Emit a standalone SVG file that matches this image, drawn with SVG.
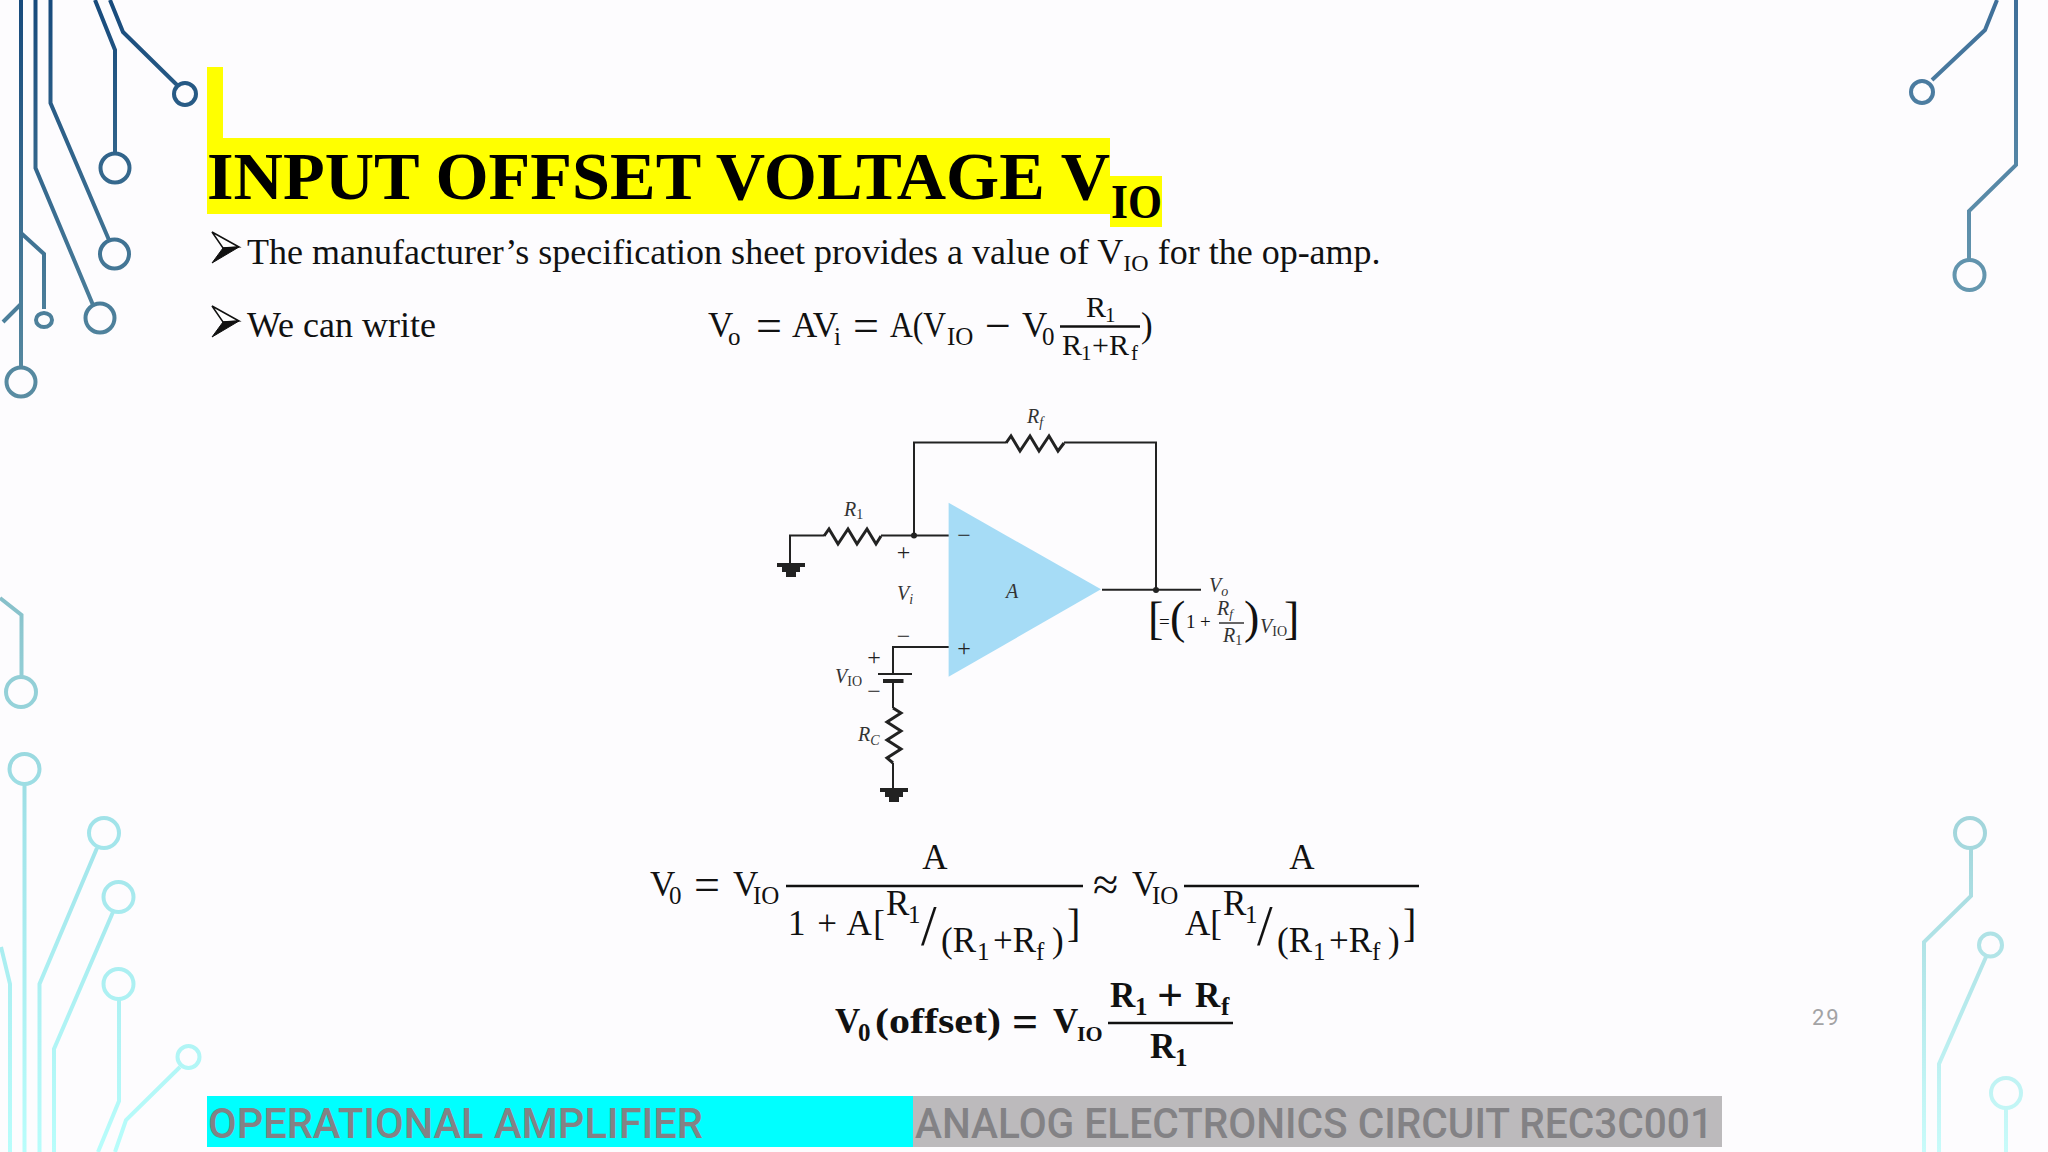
<svg xmlns="http://www.w3.org/2000/svg" width="2048" height="1152" viewBox="0 0 2048 1152">
<style>
text{font-family:"Liberation Serif",serif;fill:#111}
.trace{fill:none;stroke-width:4;stroke-linejoin:miter}
.L{stroke:url(#gl)}
.R{stroke:url(#gr)}
.m{font-size:35px}
.op{font-size:46px}
.ms{font-size:25px}
.sm{font-size:30px}
.b{font-weight:700}
.body{font-size:36px}
.cw{fill:none;stroke:#222;stroke-width:2}
.rz{fill:none;stroke:#222;stroke-width:3}
.ci{font-size:20px;font-style:italic;fill:#333}
.cs{font-size:14px;fill:#333}
.cp{font-size:24px;fill:#222;text-anchor:middle}
.foot{font-family:Roboto,sans-serif;font-size:42px;font-weight:500;fill:#838285}
.rule{stroke:#111;stroke-width:2.5}
</style>
<defs>
<linearGradient id="gl" gradientUnits="userSpaceOnUse" x1="0" y1="0" x2="0" y2="1152">
<stop offset="0" stop-color="#174a7c"/><stop offset="0.35" stop-color="#5b8ea3"/><stop offset="0.55" stop-color="#8ec8d0"/><stop offset="0.72" stop-color="#a2e4ea"/><stop offset="1" stop-color="#b8fdfb"/>
</linearGradient>
<linearGradient id="gr" gradientUnits="userSpaceOnUse" x1="0" y1="0" x2="0" y2="1152">
<stop offset="0" stop-color="#3f6f99"/><stop offset="0.25" stop-color="#6597af"/><stop offset="0.72" stop-color="#a3d6dc"/><stop offset="1" stop-color="#c8fbfa"/>
</linearGradient>
<polygon id="bul-w" points="212,232 239,247 223,248" fill="#fff" stroke="#111" stroke-width="1.5"/>
<polygon id="bul-b" points="212,263 239,247 223,248" fill="#111" stroke="#111" stroke-width="1"/>
<g id="gnd"><rect x="-14" y="0" width="28" height="4" fill="#222"/><rect x="-9" y="4" width="18" height="5" fill="#222"/><rect x="-5" y="9" width="10" height="5" fill="#222"/></g>
</defs>
<rect width="2048" height="1152" fill="#fdfcfe"/>

<g id="traces-left" class="trace L">
<path d="M21 0V367M35.5 0V168L93 305M50.5 0V103L109 240M95 0L115 50V153M110 0L123 32L177 85M21 233L44 254V309M3 322L21 304"/>
<circle cx="21" cy="382" r="14.5"/><circle cx="100" cy="318" r="14.5"/><circle cx="114.500" cy="254" r="14.500"/><circle cx="115" cy="168" r="14.500"/><circle cx="185" cy="94" r="11"/><ellipse cx="44" cy="320" rx="8" ry="7"/>
<path d="M0 598L21.500 615V677M24.500 784V1152M97 848L39.500 984V1152M113 912L54 1049V1152M119 999V1101L98 1152M180 1067L126 1120L115 1152M1 947L10 984V1152"/>
<circle cx="21" cy="692" r="15"/><circle cx="24.500" cy="769" r="15"/><circle cx="104" cy="833" r="15"/><circle cx="118.500" cy="897" r="15"/><circle cx="118.500" cy="984" r="15"/><circle cx="188.500" cy="1057" r="11"/>
</g>
<g id="traces-right" class="trace R">
<path d="M1997 0L1985 30L1932 80M2016 0V165L1969 211V260M1971 848V896L1924 942V1152M1986 957L1939 1064V1152M2006 1108V1152"/>
<circle cx="1922" cy="92" r="11"/><circle cx="1969.500" cy="275" r="15"/><circle cx="1970" cy="833" r="15"/><circle cx="1990.500" cy="945" r="11.500"/><circle cx="2006" cy="1093" r="15"/>
</g>

<g id="title">
<path d="M207 67H223V138H1110V176H1162V227H1110V214H207Z" fill="#ffff00"/>
<text x="207" y="199" font-size="67" font-weight="700" textLength="903" lengthAdjust="spacingAndGlyphs" style="fill:#000">INPUT OFFSET VOLTAGE V</text>
<text x="1111" y="218" font-size="48" font-weight="700" textLength="51" lengthAdjust="spacingAndGlyphs" style="fill:#000">IO</text>
</g>

<g id="bullets">
<use href="#bul-w"/><use href="#bul-b"/>
<use href="#bul-w" y="74"/><use href="#bul-b" y="74"/>
<text class="body" x="247" y="264">The manufacturer’s specification sheet provides a value of V<tspan font-size="24" dy="7">IO</tspan><tspan dy="-7"> for the op-amp.</tspan></text>
<text class="body" x="247" y="337">We can write</text>
</g>

<g id="equation-1">
<text class="m" x="708" y="337">V</text><text class="ms" x="728" y="345">o</text>
<text class="op" x="756" y="341">=</text>
<text class="m" x="792" y="337">AV</text><text class="ms" x="834" y="345">i</text>
<text class="op" x="853" y="341">=</text>
<text class="m" x="890" y="337" textLength="56" lengthAdjust="spacingAndGlyphs">A(V</text><text class="ms" x="947" y="345">IO</text>
<text class="op" x="985" y="341">−</text>
<text class="m" x="1022" y="337">V</text><text class="ms" x="1042" y="345">0</text>
<line class="rule" x1="1060" y1="326.500" x2="1140" y2="326.500"/>
<text class="sm" x="1086" y="317">R</text><text font-size="21" x="1105" y="322">1</text>
<text class="sm" x="1062" y="355">R</text><text font-size="21" x="1081" y="360">1</text><text class="sm" x="1092" y="355">+R</text><text font-size="21" x="1131" y="360">f</text>
<text class="m" x="1141" y="337">)</text>
</g>

<g id="op-amp-circuit">
<g id="connectors">
<polyline class="cw" points="914,535.500 914,442.500 1006,442.500"/>
<polyline class="cw" points="1064,442.500 1156,442.500 1156,590"/>
<polyline class="cw" points="790,565 790,535.500 824,535.500"/>
<polyline class="cw" points="881,535.500 949,535.500"/>
<polyline class="cw" points="1102,589.700 1201,589.700"/>
<polyline class="cw" points="949,647 893,647 893,674"/>
<polyline class="cw" points="893,681 893,708"/>
<polyline class="cw" points="893,763 893,788"/>
</g>
<polygon id="amp" points="948.600,502.700 948.600,676.700 1101,589.300" fill="#a6dcf6"/>
<polyline id="Rf" class="rz" points="1006,443 1011,436 1020,451 1030,436 1039,451 1049,436 1058,451 1064,443"/>
<polyline id="R1" class="rz" points="824,536 829,529 838,544 848,529 857,544 867,529 876,544 881,536"/>
<polyline id="Rc" class="rz" points="893,708 901,713 887,722 901,731 887,740 901,749 887,758 893,763"/>
<circle cx="914" cy="535.500" r="3" fill="#222"/><circle cx="1156" cy="590" r="3" fill="#222"/>
<use href="#gnd" x="791" y="563"/><use href="#gnd" x="894" y="788"/>
<line x1="878" y1="674" x2="912" y2="674" stroke="#222" stroke-width="2"/>
<line x1="883" y1="681" x2="903.500" y2="681" stroke="#222" stroke-width="4"/>

<text class="ci" x="1027" y="423">R<tspan font-size="14" dy="4">f</tspan></text>
<text class="ci" x="844" y="516">R<tspan class="cs" dy="3" font-style="normal">1</tspan></text>
<text class="ci" x="897" y="600">V<tspan font-size="14" dy="4">i</tspan></text>
<text class="ci" x="1006" y="598" font-size="18">A</text>
<text class="ci" x="835" y="683">V<tspan class="cs" dy="3" font-style="normal">IO</tspan></text>
<text class="ci" x="858" y="741">R<tspan font-size="14" dy="4">C</tspan></text>
<text class="ci" x="1209" y="592">V<tspan font-size="14" dy="4">o</tspan></text>
<text class="cp" x="903.500" y="560">+</text>
<text class="cp" x="903.500" y="644">−</text>
<text class="cp" x="874" y="665">+</text>
<text class="cp" x="874" y="699">−</text>
<text class="cp" x="964" y="543" fill="#123">−</text>
<text class="cp" x="964" y="656">+</text>
<text font-size="46" x="1148" y="634" fill="#333">[</text>
<text font-size="19" x="1159" y="628" fill="#333">=</text>
<text font-size="46" x="1170" y="633" fill="#333">(</text>
<text font-size="19" x="1186" y="628" fill="#333">1</text>
<text font-size="19" x="1200" y="628" fill="#333">+</text>
<text class="ci" x="1217" y="615" font-size="19">R<tspan font-size="13" dy="3">f</tspan></text>
<line x1="1219" y1="623" x2="1244" y2="623" stroke="#333" stroke-width="1.500"/>
<text class="ci" x="1223" y="642">R<tspan class="cs" dy="3" font-style="normal">1</tspan></text>
<text font-size="46" x="1244" y="633" fill="#333">)</text>
<text class="ci" x="1260" y="633">V<tspan class="cs" dy="3" font-style="normal">IO</tspan></text>
<text font-size="46" x="1284" y="634" fill="#333">]</text>
</g>

<g id="equation-2">
<text class="m" x="650" y="896">V</text><text class="ms" x="669" y="904">0</text>
<text class="op" x="694" y="900">=</text>
<text class="m" x="733" y="896">V</text><text class="ms" x="753" y="904">IO</text>
<line class="rule" x1="786" y1="886" x2="1083" y2="886"/>
<text class="m" x="935" y="869" text-anchor="middle">A</text>
<text class="m" x="788" y="935" xml:space="preserve" textLength="97" lengthAdjust="spacing">1 + A[</text>
<text class="m" x="886" y="915">R</text><text class="ms" x="908" y="923">1</text>
<text font-size="56" x="921" y="945">/</text>
<text class="m" x="941" y="952">(R</text><text class="ms" x="977" y="960">1</text><text class="m" x="993" y="952">+R</text><text class="ms" x="1036" y="960">f</text><text class="m" x="1052" y="952">)</text>
<text font-size="40" x="1067" y="937">]</text>
<text class="op" x="1093" y="900">≈</text>
<text class="m" x="1132" y="896">V</text><text class="ms" x="1152" y="904">IO</text>
<line class="rule" x1="1184" y1="886" x2="1419" y2="886"/>
<text class="m" x="1302" y="869" text-anchor="middle">A</text>
<text class="m" x="1185" y="935">A[</text>
<text class="m" x="1223" y="915">R</text><text class="ms" x="1245" y="923">1</text>
<text font-size="56" x="1257" y="945">/</text>
<text class="m" x="1277" y="952">(R</text><text class="ms" x="1313" y="960">1</text><text class="m" x="1329" y="952">+R</text><text class="ms" x="1372" y="960">f</text><text class="m" x="1388" y="952">)</text>
<text font-size="40" x="1403" y="937">]</text>
</g>

<g id="equation-3">
<text class="m b" x="835" y="1033">V</text><text class="ms b" x="858" y="1041">0</text>
<text class="m b" x="875" y="1033" textLength="126" lengthAdjust="spacingAndGlyphs">(offset)</text>
<text class="op b" x="1012" y="1037">=</text>
<text class="m b" x="1053" y="1033">V</text><text font-size="22" font-weight="700" x="1077" y="1041">IO</text>
<line class="rule" x1="1108" y1="1023" x2="1233" y2="1023"/>
<text class="m b" x="1110" y="1007">R</text><text class="ms b" x="1135" y="1015">1</text>
<text class="op b" x="1157" y="1011">+</text>
<text class="m b" x="1195" y="1007">R</text><text class="ms b" x="1221" y="1015">f</text>
<text class="m b" x="1150" y="1058">R</text><text class="ms b" x="1175" y="1066">1</text>
</g>

<g id="page-number"><text x="1812" y="1025" font-size="22" letter-spacing="2" style="font-family:Roboto,sans-serif;fill:#a3a3a5">29</text></g>

<g id="footer">
<rect x="207" y="1096" width="706" height="51" fill="#00ffff"/>
<rect x="913" y="1096" width="809" height="51" fill="#bcbabc"/>
<text class="foot" x="208" y="1138" textLength="495" lengthAdjust="spacingAndGlyphs">OPERATIONAL AMPLIFIER</text>
<text class="foot" x="915" y="1138" textLength="798" lengthAdjust="spacingAndGlyphs">ANALOG ELECTRONICS CIRCUIT REC3C001</text>
</g>
</svg>
